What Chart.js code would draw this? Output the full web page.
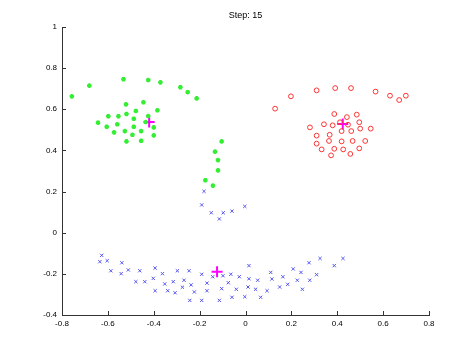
<!DOCTYPE html>
<html>
<head>
<meta charset="utf-8">
<script src="https://cdn.jsdelivr.net/npm/chart.js@4/dist/chart.umd.min.js"></script>
<style>
  html, body { margin: 0; padding: 0; background: #fff; }
  #wrap { width: 474px; height: 355px; }
</style>
</head>
<body>
<div id="wrap"><canvas id="kmeansChart" width="474" height="355"></canvas></div>
<script>
// data
const titleText = "Step: 15";
const xTicks = [-0.8, -0.6, -0.4, -0.2, 0, 0.2, 0.4, 0.6, 0.8];
const yTicks = [-0.4, -0.2, 0, 0.2, 0.4, 0.6, 0.8, 1];

const greenX = [-0.757, -0.681, -0.532, -0.424, -0.371, -0.284, -0.252, -0.213, -0.521, -0.445,
  -0.598, -0.554, -0.519, -0.478, -0.384, -0.424, -0.643, -0.487, -0.605, -0.559,
  -0.487, -0.400, -0.573, -0.526, -0.455, -0.493, -0.400, -0.519, -0.455, -0.435,
  -0.104, -0.133, -0.120, -0.120, -0.175, -0.142];
const greenY = [0.663, 0.715, 0.746, 0.742, 0.731, 0.707, 0.683, 0.653, 0.624, 0.634,
  0.566, 0.566, 0.577, 0.592, 0.595, 0.567, 0.535, 0.554, 0.515, 0.527,
  0.515, 0.512, 0.488, 0.494, 0.494, 0.476, 0.473, 0.444, 0.447, 0.538,
  0.444, 0.394, 0.353, 0.303, 0.255, 0.229];

const redX = [0.129, 0.198, 0.310, 0.391, 0.460, 0.567, 0.630, 0.670, 0.699, 0.387,
  0.442, 0.485, 0.412, 0.342, 0.380, 0.447, 0.496, 0.281, 0.419, 0.461,
  0.500, 0.546, 0.310, 0.367, 0.310, 0.364, 0.419, 0.467, 0.522, 0.332,
  0.387, 0.426, 0.496, 0.373, 0.457];
const redY = [0.603, 0.663, 0.692, 0.703, 0.703, 0.686, 0.666, 0.645, 0.666, 0.577,
  0.562, 0.574, 0.537, 0.527, 0.522, 0.525, 0.537, 0.512, 0.494, 0.494,
  0.506, 0.506, 0.472, 0.476, 0.433, 0.446, 0.444, 0.446, 0.446, 0.405,
  0.408, 0.405, 0.410, 0.376, 0.383];

const blueX = [-0.181, -0.191, -0.149, -0.114, -0.097, -0.059, -0.003,
  -0.627, -0.635, -0.603, -0.539, -0.587, -0.542, -0.511, -0.461, -0.394, -0.478,
  -0.439, -0.402, -0.362, -0.297, -0.246, -0.191, -0.143, -0.098, -0.064, -0.027,
  0.015, 0.015, 0.053, -0.352, -0.315, -0.268, -0.237, -0.168, -0.075, -0.394,
  -0.339, -0.307, -0.275, -0.223, -0.168, -0.104, -0.040, 0.011, 0.044, -0.243,
  -0.191, -0.114, -0.059, -0.003, 0.066, 0.110, 0.115, 0.094, 0.163, 0.149,
  0.184, 0.208, 0.226, 0.242, 0.248, 0.277, 0.280, 0.310, 0.325, 0.387, 0.425];
const blueY = [0.201, 0.135, 0.097, 0.067, 0.097, 0.105, 0.128,
  -0.110, -0.141, -0.136, -0.146, -0.185, -0.199, -0.181, -0.185, -0.172, -0.238,
  -0.238, -0.222, -0.199, -0.185, -0.185, -0.202, -0.214, -0.209, -0.202, -0.214,
  -0.160, -0.224, -0.231, -0.249, -0.238, -0.231, -0.254, -0.245, -0.243, -0.282,
  -0.282, -0.292, -0.265, -0.288, -0.282, -0.272, -0.275, -0.264, -0.275, -0.329,
  -0.329, -0.329, -0.314, -0.311, -0.314, -0.193, -0.225, -0.282, -0.214, -0.264,
  -0.251, -0.176, -0.231, -0.193, -0.275, -0.146, -0.231, -0.204, -0.125, -0.160, -0.125];

const centerX = [-0.420, 0.424, -0.124];
const centerY = [0.538, 0.528, -0.190];

function pts(xs, ys) {
    return xs.map((x, i) => ({ x: x, y: ys[i] }));
}

const fmt = v => String(Math.round(v * 10) / 10);

// MATLAB style: ticks point inward, title above the axes
const matlabLook = {
    id: "matlabLook",
    afterDraw(chart) {
        const ctx = chart.ctx;
        const xs = chart.scales.x, ys = chart.scales.y;
        const a = chart.chartArea;
        ctx.save();
        ctx.strokeStyle = "#333";
        ctx.lineWidth = 1;
        ctx.beginPath();
        xTicks.forEach(v => {
            const px = Math.round(xs.getPixelForValue(v)) + 0.5;
            ctx.moveTo(px, a.bottom);
            ctx.lineTo(px, a.bottom - 4);
        });
        yTicks.forEach(v => {
            const py = Math.round(ys.getPixelForValue(v)) + 0.5;
            ctx.moveTo(a.left, py);
            ctx.lineTo(a.left + 4, py);
        });
        ctx.stroke();
        ctx.fillStyle = "#000";
        ctx.font = "9px 'Liberation Sans', Arial, sans-serif";
        ctx.textAlign = "center";
        ctx.textBaseline = "middle";
        ctx.fillText(titleText, (a.left + a.right) / 2, 16);
        ctx.restore();
    }
};

document.addEventListener("DOMContentLoaded", () => {
    new Chart(document.getElementById("kmeansChart"), {
        type: "scatter",
        data: {
            datasets: [
                {
                    label: "c1",
                    data: pts(greenX, greenY),
                    pointStyle: "star",
                    radius: 2.3,
                    borderWidth: 1.5,
                    borderColor: "#33ee33",
                    backgroundColor: "#33ee33"
                },
                {
                    label: "c2",
                    data: pts(redX, redY),
                    pointStyle: "circle",
                    radius: 2.4,
                    borderWidth: 1,
                    borderColor: "#ff3333",
                    backgroundColor: "rgba(0,0,0,0)"
                },
                {
                    label: "c3",
                    data: pts(blueX, blueY),
                    pointStyle: "crossRot",
                    radius: 2.3,
                    borderWidth: 1,
                    borderColor: "#5555ee",
                    backgroundColor: "#5555ee"
                },
                {
                    label: "centers",
                    data: pts(centerX, centerY),
                    pointStyle: "cross",
                    radius: 5.5,
                    borderWidth: 2,
                    borderColor: "#ff00ff",
                    backgroundColor: "#ff00ff"
                }
            ]
        },
        options: {
            responsive: false,
            animation: false,
            layout: { padding: { top: 27, right: 45, left: 0, bottom: 0 } },
            plugins: {
                legend: { display: false },
                title: { display: false },
                tooltip: { enabled: false }
            },
            scales: {
                x: {
                    type: "linear",
                    min: -0.8,
                    max: 0.8,
                    afterFit: s => { s.height = 40; },
                    afterBuildTicks: s => { s.ticks = xTicks.map(v => ({ value: v })); },
                    grid: { display: false, drawTicks: false },
                    border: { display: true, color: "#333", width: 1 },
                    ticks: {
                        padding: 4,
                        color: "#000",
                        maxRotation: 0,
                        font: { size: 8, family: "'Liberation Sans', Arial, sans-serif" },
                        callback: fmt
                    }
                },
                y: {
                    type: "linear",
                    min: -0.4,
                    max: 1,
                    afterFit: s => { s.width = 62; },
                    afterBuildTicks: s => { s.ticks = yTicks.map(v => ({ value: v })); },
                    grid: { display: false, drawTicks: false },
                    border: { display: true, color: "#333", width: 1 },
                    ticks: {
                        padding: 5,
                        color: "#000",
                        font: { size: 8, family: "'Liberation Sans', Arial, sans-serif" },
                        callback: fmt
                    }
                }
            }
        },
        plugins: [matlabLook]
    });
});
</script>
</body>
</html>
